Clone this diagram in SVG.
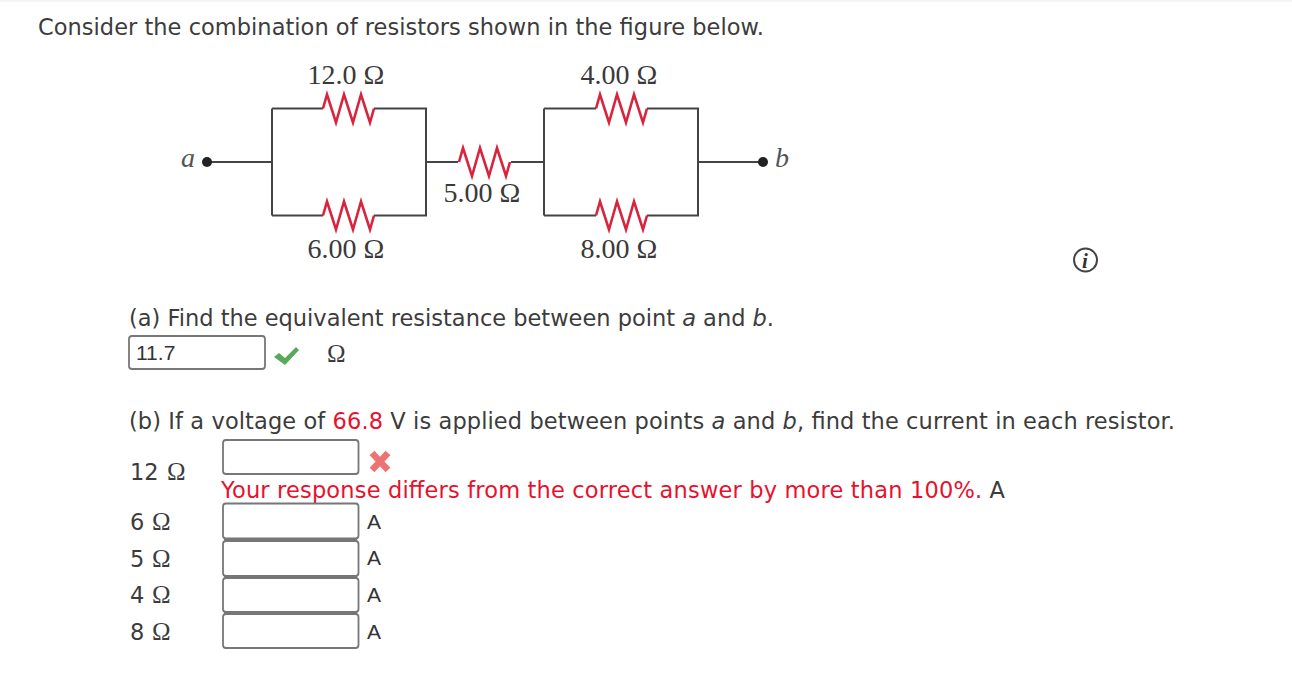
<svg xmlns="http://www.w3.org/2000/svg" width="1292" height="700" viewBox="0 0 1292 700">
<style>
.t{font-family:"DejaVu Sans",Verdana,sans-serif;font-size:22.5px;fill:#3c3c3c}
.red{fill:#e8112d}
.i{font-style:italic}
.f{font-family:"Liberation Sans",Arial,sans-serif;font-size:21px;fill:#333}
.o{font-family:"Liberation Serif",serif;font-size:25px;fill:#3c3c3c}
.s{font-family:"Liberation Serif",serif;font-size:28px;fill:#3a3a3a;text-anchor:middle}
.n{font-family:"Liberation Serif",serif;font-style:italic;font-size:28px;fill:#555;text-anchor:middle}
.w{fill:none;stroke:#444;stroke-width:2}
.r{fill:none;stroke:#d9243e;stroke-width:2.600}
.b{fill:#fff;stroke:#777;stroke-width:1.800}
</style>
<defs>
<path id="z" d="M0 0L4 -14L13 14L21 -14L30 14L38 -14L47 14L51 0" class="r"/>
</defs>
<rect width="1292" height="700" fill="#fff"/>
<rect x="0" y="0" width="1292" height="2" fill="#f4f4f4"/>
<text class="t" x="38" y="34.500" textLength="726">Consider the combination of resistors shown in the figure below.</text>
<g id="connectors">
<path class="w" d="M207 162H272M272 108.500V215.500M272 108.500H323M374 108.500H426V215.500H374M323 215.500H272M426 162H458M511 162H544M544 108.500V215.500M544 108.500H596M647 108.500H698V215.500H647M596 215.500H544M698 162H763"/>
</g>
<g id="R12"><use href="#z" x="323" y="108.500"/><text class="s" x="346" y="84">12.0 Ω</text></g>
<g id="R6"><use href="#z" x="323" y="215.500"/><text class="s" x="346" y="258">6.00 Ω</text></g>
<g id="R5"><use href="#z" x="459" y="162"/><text class="s" x="482" y="202">5.00 Ω</text></g>
<g id="R4"><use href="#z" x="596" y="108.500"/><text class="s" x="619" y="84">4.00 Ω</text></g>
<g id="R8"><use href="#z" x="596" y="215.500"/><text class="s" x="619" y="258">8.00 Ω</text></g>
<g id="a"><circle cx="207" cy="162" r="5" fill="#222"/><text class="n" x="188" y="167">a</text></g>
<g id="b"><circle cx="763" cy="162" r="5" fill="#222"/><text class="n" x="782" y="167">b</text></g>
<g id="info"><circle cx="1085.500" cy="260" r="11.500" fill="none" stroke="#444" stroke-width="2"/><text x="1085" y="268" font-family="Liberation Serif,serif" font-style="italic" font-weight="bold" font-size="21" fill="#333" text-anchor="middle">i</text></g>
<text class="t" x="129" y="325.500" textLength="645">(a) Find the equivalent resistance between point <tspan class="i">a</tspan> and <tspan class="i">b</tspan>.</text>
<rect class="b" x="129" y="336" width="136" height="33" rx="3"/>
<text class="f" x="136" y="360">11.7</text>
<path d="M274 357L279 353L285 358L296 347L299 350L285 365Z" fill="#5aa85a"/>
<text class="o" x="327" y="362">Ω</text>
<text class="t" x="129" y="429" textLength="1046">(b) If a voltage of <tspan class="red">66.8</tspan> V is applied between points <tspan class="i">a</tspan> and <tspan class="i">b</tspan>, find the current in each resistor.</text>
<text class="t" x="130" y="480">12</text><text class="o" x="167" y="480">Ω</text>
<rect class="b" x="223" y="440" width="135.500" height="34" rx="3"/>
<path d="M372 453L388 470M388 453L372 470" stroke="#ef7272" stroke-width="6.500"/>
<text class="t" x="221" y="498" textLength="784"><tspan class="red">Your response differs from the correct answer by more than 100%.</tspan> A</text>
<g id="rows">
<rect class="b" x="223" y="503.500" width="135.500" height="35" rx="3"/>
<rect class="b" x="223" y="541" width="135.500" height="35" rx="3"/>
<rect class="b" x="223" y="578" width="135.500" height="34" rx="3"/>
<rect class="b" x="223" y="614" width="135.500" height="34" rx="3"/>
<path d="M224 539.500H357M224 576.500H357M224 612.500H357" stroke="#777" stroke-width="2.500"/>
<text class="t" x="130" y="530">6</text><text class="o" x="152" y="530">Ω</text>
<text class="t" x="130" y="567">5</text><text class="o" x="152" y="567">Ω</text>
<text class="t" x="130" y="603">4</text><text class="o" x="152" y="603">Ω</text>
<text class="t" x="130" y="640">8</text><text class="o" x="152" y="640">Ω</text>
<text class="f" x="367" y="529">A</text>
<text class="f" x="367" y="565">A</text>
<text class="f" x="367" y="602">A</text>
<text class="f" x="367" y="639">A</text>
</g>
</svg>
